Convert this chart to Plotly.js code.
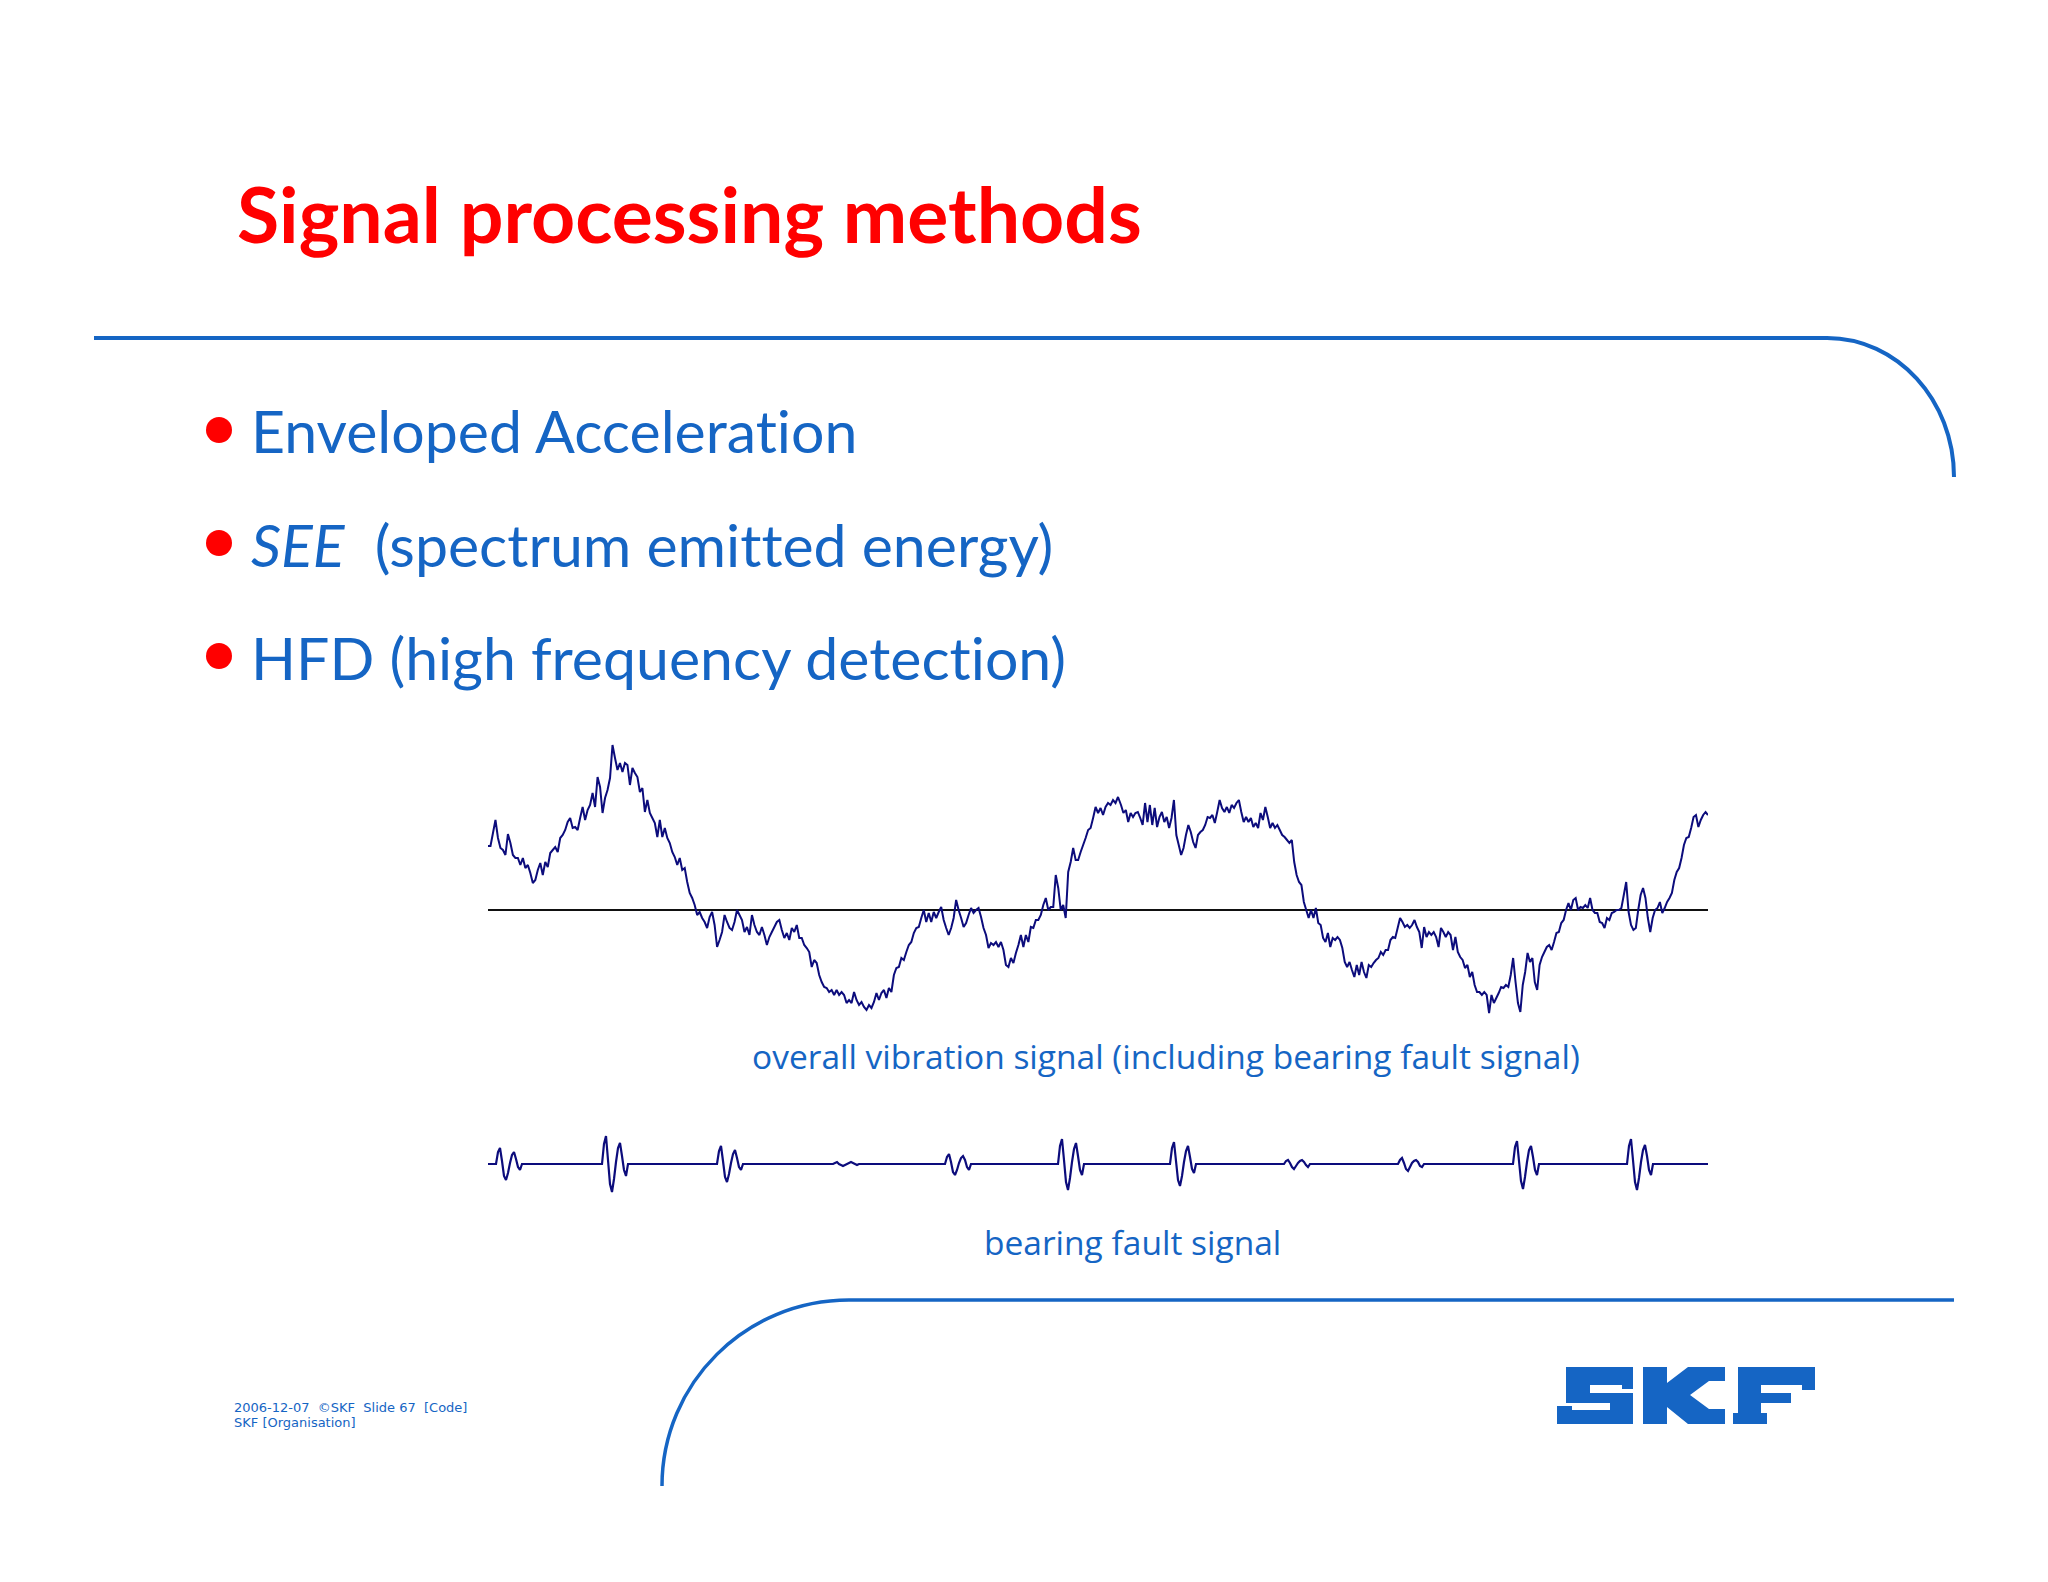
<!DOCTYPE html>
<html><head><meta charset="utf-8">
<script src="https://cdn.plot.ly/plotly-3.0.1.min.js"></script>
<style>html,body{margin:0;padding:0;background:#fff;overflow:hidden}#chart{width:2048px;height:1582px}svg text{font-variant-ligatures:none !important;font-feature-settings:"liga" 0,"clig" 0 !important}</style>
</head><body><div id="chart"></div>
<script>
// ---- DATA ----
// overall vibration signal, first part (t = 0 .. 63.0 ms)
const overallA = [64,64,77,90,72,62,60,55,76,67,55,52,52,45,52,42,45,37,27,30,40,47,35,48,43,57,60,63,58,72,75,80,88,92,82,83,80,92,103,90,100,105,117,103,133,123,97,112,120,132,165,152,140,147,138,147,145,125,142,137,133,118,122,98,110,97,92,87,73,90,73,82,72,67,58,53,45,52,40,42,28,17,12,5,-5,-2,-8,-12,-18,-7,-2,-15,-37,-30,-22,-5,-12,-18,-20,-12,0,-5,-10,-22,-17,-25,-5,-15,-22,-25,-17,-25,-35,-27,-22,-17,-12,-10,-20,-28,-23,-30,-18,-22,-15,-28,-28,-35,-38,-42,-57,-50,-53,-65,-72,-77,-78,-82,-80,-85,-80,-85,-82,-85,-93,-90,-93,-82,-90,-95,-92,-97,-100,-95,-98,-92,-83,-90,-83,-80,-88,-78,-82,-65,-58,-57,-48,-50,-42,-35,-32,-23,-18,-17,-8,0,-12,-3,-12,-2,-8,-2,3,-10,-18,-25,-18,-8,10,0,-8,-17,-13,-5,2,-3,0,2,-7,-18,-25,-38,-33,-35,-32,-37,-32,-40,-55,-57,-48,-53,-43,-35,-25,-37,-25,-32,-17,-18,-10,-10,-5,5,12,0,3,3,35,22,0,5,-8,38,48,62,50,50,58,65,72,80,82,92,103,97,102,95,103,107,105,110,107,113];
// overall vibration signal, second part (t = 63.3 .. 122 ms)
const overallB = [105,97,100,88,97,93,97,98,92,85,107,88,105,85,102,83,93,98,88,93,82,92,110,75,65,55,62,75,85,78,68,62,75,78,80,85,93,92,95,87,98,110,102,98,103,97,105,102,107,110,98,88,93,88,92,83,87,82,97,90,103,93,82,87,82,85,80,75,73,70,67,70,48,35,28,25,8,0,-8,0,-8,2,-13,-15,-28,-32,-23,-37,-28,-30,-27,-30,-38,-52,-57,-52,-60,-67,-55,-65,-52,-62,-68,-55,-57,-53,-50,-48,-42,-45,-40,-40,-30,-27,-28,-18,-8,-12,-17,-15,-18,-15,-10,-17,-22,-38,-17,-27,-22,-25,-22,-27,-37,-18,-22,-27,-22,-25,-40,-27,-42,-47,-50,-58,-55,-67,-62,-75,-82,-82,-85,-82,-85,-103,-85,-93,-88,-83,-77,-78,-75,-77,-65,-48,-72,-93,-102,-75,-62,-43,-52,-48,-72,-80,-55,-47,-42,-37,-35,-40,-32,-23,-22,-13,-10,0,7,0,10,12,0,3,2,5,2,12,0,-3,-3,-12,-13,-18,-8,-10,-3,-2,0,0,2,15,28,-2,-15,-20,-18,0,15,22,12,-8,-22,-8,0,2,8,-3,2,8,12,17,30,38,42,52,65,72,73,82,93,95,83,90,95,98,95];
const tStartA = 0, tEndA = 63.0, tStartB = 63.3, tEndB = 122;

// bearing fault signal: burst start times (ms) and burst samples (0.2 ms apart)
const burstStarts = [0.8, 11.4, 22.9, 34.5, 45.7, 57.0, 68.2, 79.6, 91.0, 102.5, 113.9];
const burstStep = 0.2;
const burstValues = [
  [0, 12, 16, 3, -12, -16, -9, 1, 9, 12, 5, -3, -6, 0],
  [0, 20, 28, 4, -20, -28, -15, 2, 16, 21, 8, -6, -12, 0],
  [0, 13, 18, 3, -13, -18, -10, 1, 10, 14, 6, -3, -6, 0],
  [0, 1, 2, 0, -1, -2, -1, 0, 1, 2, 1, 0, -1, 0],
  [0, 7, 10, 2, -8, -11, -6, 1, 6, 8, 4, -3, -6, 0],
  [0, 18, 25, 4, -18, -26, -14, 2, 15, 21, 8, -6, -11, 0],
  [0, 16, 22, 3, -16, -22, -12, 2, 13, 18, 7, -5, -9, 0],
  [0, 3, 4, 1, -3, -5, -2, 1, 3, 4, 2, -1, -3, 0],
  [0, 4, 6, 1, -5, -7, -3, 1, 3, 4, 2, -2, -3, 0],
  [0, 17, 23, 3, -17, -25, -13, 2, 14, 18, 7, -6, -11, 0],
  [0, 18, 25, 4, -18, -26, -14, 2, 14, 19, 8, -6, -11, 0]
];

const titleText = 'Signal processing methods';
const bullets = ['Enveloped Acceleration', '<i>SEE</i>\u00a0\u00a0(spectrum emitted energy)', 'HFD (high frequency detection)'];
const caption1 = 'overall vibration signal (including bearing fault signal)';
const caption2 = 'bearing fault signal';
const footer1 = '2006-12-07\u00a0\u00a0©SKF\u00a0\u00a0Slide 67\u00a0\u00a0[Code]';
const footer2 = 'SKF [Organisation]';

// ---- BUILD ----
const W = 2048, H = 1582;
const X = v => v / W, Y = v => 1 - v / H;
const BLUE = '#1565c4', RED = '#ff0000', NAVY = '#0c0c7c';

const tA = overallA.map((_, i) => tStartA + i * (tEndA - tStartA) / (overallA.length - 1));
const tB = overallB.map((_, i) => tStartB + i * (tEndB - tStartB) / (overallB.length - 1));
const overallT = tA.concat(tB), overallV = overallA.concat(overallB);

const bearT = [0], bearV = [0];
burstStarts.forEach((s, b) => {
  burstValues[b].forEach((v, k) => { bearT.push(s + k * burstStep); bearV.push(v); });
});
bearT.push(tEndB); bearV.push(0);

const traces = [
  {x: overallT, y: overallV, xaxis: 'x', yaxis: 'y', mode: 'lines', line: {color: NAVY, width: 2, simplify: false}, hoverinfo: 'skip'},
  {x: bearT, y: bearV, xaxis: 'x2', yaxis: 'y2', mode: 'lines', line: {color: NAVY, width: 2.2, simplify: false}, hoverinfo: 'skip'}
];

const hidden = {showgrid: false, showticklabels: false, showline: false, ticks: '', zeroline: false, fixedrange: true};

const ann = [];
function txt(text, x, yBase, size, opts) {
  const o = Object.assign({family: 'Lato', color: BLUE, weight: 400, xanchor: 'left', asc: 0.387}, opts || {});
  ann.push({text: text, xref: 'paper', yref: 'paper', x: X(x), y: Y(yBase - o.asc * size), xanchor: o.xanchor, yanchor: 'middle',
    showarrow: false, borderpad: 0, font: {family: o.family, size: size, color: o.color, weight: o.weight}});
}
txt(titleText, 236, 243, 77, {color: RED, weight: 700});
const bulletBase = [453, 567, 680];
bullets.forEach((b, i) => txt(b, 250, bulletBase[i], 59));
txt(caption1, 1166, 1067, 33.5, {xanchor: 'center', family: 'Open Sans', asc: 0.33});
txt(caption2, 1132, 1253, 33.5, {xanchor: 'center', family: 'Open Sans', asc: 0.33});
txt(footer1, 233, 1412, 13, {family: 'DejaVu Sans', asc: 0.346});
txt(footer2, 233, 1427, 13, {family: 'DejaVu Sans', asc: 0.346});

const shapes = [];
const P = (x, y) => X(x).toFixed(5) + ',' + Y(y).toFixed(5);
shapes.push({type: 'path', xref: 'paper', yref: 'paper', layer: 'below',
  path: 'M' + P(94, 338) + ' L' + P(1827, 338) + ' C' + P(1897, 338) + ' ' + P(1954, 400) + ' ' + P(1954, 477),
  line: {color: BLUE, width: 4}});
shapes.push({type: 'path', xref: 'paper', yref: 'paper', layer: 'below',
  path: 'M' + P(1954, 1300) + ' L' + P(849, 1300) + ' C' + P(746, 1300) + ' ' + P(662, 1383) + ' ' + P(662, 1486),
  line: {color: BLUE, width: 3.5}});
[430, 543, 656].forEach(cy => shapes.push({type: 'circle', xref: 'paper', yref: 'paper',
  x0: X(206), x1: X(232), y0: Y(cy + 13), y1: Y(cy - 13), fillcolor: RED, line: {width: 0}}));
// SKF logo
function rect(x0, y0, x1, y1) { shapes.push({type: 'rect', xref: 'paper', yref: 'paper', x0: X(x0), x1: X(x1), y0: Y(y1), y1: Y(y0), fillcolor: BLUE, line: {width: 0}}); }
function poly(pts) { shapes.push({type: 'path', xref: 'paper', yref: 'paper', path: 'M' + pts.map(p => P(p[0], p[1])).join(' L') + ' Z', fillcolor: BLUE, line: {width: 0}}); }
// S
rect(1566, 1367, 1633, 1385); rect(1622, 1385, 1633, 1389); rect(1566, 1385, 1590, 1394);
rect(1566, 1393, 1633, 1403); rect(1610, 1403, 1633, 1411); rect(1557, 1410, 1633, 1424); rect(1557, 1406, 1572, 1411);
// K
poly([[1643,1367],[1667,1367],[1667,1383],[1688,1367],[1725,1367],[1725,1381],[1709,1381],[1690,1395],[1709,1409],[1725,1409],[1725,1424],[1688,1424],[1667,1407],[1667,1424],[1643,1424]]);
// F
rect(1738, 1367, 1815, 1385); rect(1802, 1385, 1815, 1390); rect(1738, 1367, 1761, 1424);
rect(1760, 1393, 1791, 1403); rect(1733, 1413, 1767, 1424);

const layout = {
  width: W, height: H, margin: {l: 0, r: 0, t: 0, b: 0, pad: 0},
  paper_bgcolor: '#fff', plot_bgcolor: 'rgba(0,0,0,0)', showlegend: false,
  xaxis: Object.assign({domain: [X(488), X(1708)], range: [0, tEndB], anchor: 'y'}, hidden),
  yaxis: Object.assign({}, hidden, {domain: [Y(1022), Y(740)], range: [-112, 170], anchor: 'x', zeroline: true, zerolinecolor: '#111', zerolinewidth: 1.6}),
  xaxis2: Object.assign({domain: [X(488), X(1708)], range: [0, tEndB], anchor: 'y2'}, hidden),
  yaxis2: Object.assign({domain: [Y(1200), Y(1128)], range: [-36, 36], anchor: 'x2'}, hidden),
  annotations: ann, shapes: shapes
};
Plotly.newPlot('chart', traces, layout, {staticPlot: true, displayModeBar: false});
</script></body></html>
